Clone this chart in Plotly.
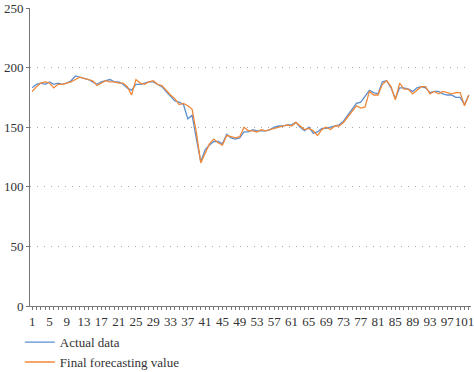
import plotly.graph_objects as go

x_index = list(range(1, 103))
actual_data = [183, 186, 187, 186, 188, 186, 187, 186, 187, 189,
               193, 192, 191, 190, 188, 186, 188, 189, 190, 188,
               188, 186, 183, 181, 186, 186, 187, 188, 188, 186,
               184, 180, 176, 172, 171, 169, 157, 160, 140, 121,
               131, 135, 138, 138, 136, 144, 141, 140, 141, 146,
               146, 148, 147, 147, 147, 148, 150, 151, 151, 152,
               152, 154, 150, 147, 150, 145, 146, 149, 149, 150,
               151, 152, 155, 160, 165, 170, 171, 176, 181, 179,
               178, 188, 189, 183, 174, 183, 183, 182, 180, 183,
               184, 183, 179, 180, 180, 178, 177, 177, 175, 175,
               169, 177]
forecast_value = [180, 184, 187, 188, 187, 183, 186, 186, 187, 188,
                  190, 192, 191, 190, 189, 185, 187, 189, 188, 188,
                  187, 187, 184, 177, 190, 187, 186, 188, 189, 186,
                  185, 181, 177, 174, 169, 170, 168, 165, 145, 120,
                  128, 136, 140, 137, 135, 143, 142, 141, 142, 150,
                  147, 147, 146, 148, 147, 148, 149, 150, 151, 152,
                  151, 154, 151, 148, 149, 147, 143, 148, 150, 148,
                  151, 151, 154, 159, 164, 168, 166, 167, 180, 177,
                  177, 186, 189, 184, 173, 187, 182, 182, 178, 181,
                  184, 184, 178, 180, 178, 180, 179, 178, 179, 179,
                  168, 177]
x_tick_labels = [str(v) for v in range(1, 102, 4)]
y_tick_values = [0, 50, 100, 150, 200, 250]

font_family = "Liberation Serif"

fig = go.Figure()
fig.add_trace(go.Scatter(x=x_index, y=actual_data, mode="lines", name="Actual data",
                         line=dict(color="#5B8FD0", width=1.3)))
fig.add_trace(go.Scatter(x=x_index, y=forecast_value, mode="lines", name="Final forecasting value",
                         line=dict(color="#F0883A", width=1.3)))

fig.update_layout(
    width=474, height=372,
    margin=dict(l=30, r=3, t=8, b=66, autoexpand=False),
    paper_bgcolor="white", plot_bgcolor="white",
    font=dict(family=font_family, size=13, color="#333333"),
    showlegend=True,
    legend=dict(orientation="v", x=-0.023, y=-0.071, xanchor="left", yanchor="top",
                font=dict(family=font_family, size=13, color="#333333"),
                tracegroupgap=0, itemwidth=30, bgcolor="rgba(0,0,0,0)"),
)
fig.update_xaxes(
    range=[0.5, 102.5], automargin=False, ticklabeloverflow="allow",
    tickmode="array", tickvals=[int(t) for t in x_tick_labels], ticktext=x_tick_labels,
    showline=True, linecolor="#777777", linewidth=1,
    ticks="outside", ticklen=3, tickcolor="#777777",
    minor=dict(tickmode="linear", tick0=1, dtick=1, ticks="outside", ticklen=3, tickcolor="#777777", showgrid=False),
    showgrid=False, zeroline=False, tickangle=0,
    tickfont=dict(family=font_family, size=13, color="#333333"),
)
fig.update_yaxes(
    range=[0, 250], automargin=False, ticklabeloverflow="allow",
    tickmode="array", tickvals=y_tick_values,
    showline=True, linecolor="#777777", linewidth=1,
    ticks="outside", ticklen=3, tickcolor="#777777",
    showgrid=True, gridcolor="#aaaaaa", gridwidth=1, griddash="1px,6px",
    zeroline=False,
    tickfont=dict(family=font_family, size=13, color="#333333"),
)

fig.write_html("out.html", config={"displayModeBar": False},
               post_script="document.body.style.margin='0';document.body.style.padding='0';")
